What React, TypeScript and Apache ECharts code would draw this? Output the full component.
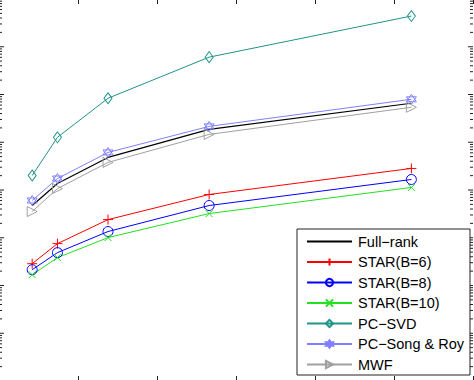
import React, { useEffect, useRef } from "react";
import * as echarts from "echarts";

// x positions (arbitrary units, axis labels are cropped out of the reference)
const xValues = [21, 37, 69, 133, 261];

// series values (log scale)
const fullRank = [0.473, 1.37, 4.81, 18.6, 65.5];
const star6 = [0.0286, 0.0753, 0.24, 0.805, 2.83];
const star8 = [0.0214, 0.0488, 0.135, 0.473, 1.66];
const star10 = [0.0168, 0.0383, 0.1007, 0.321, 1.13];
const pcSvd = [2.01, 12.7, 83.4, 606, 4396];
const pcSong = [0.602, 1.74, 6.12, 21.5, 79.4];
const mwf = [0.354, 1.07, 3.78, 14.6, 54.0];

const seriesNames = [
  "Full−rank",
  "STAR(B=6)",
  "STAR(B=8)",
  "STAR(B=10)",
  "PC−SVD",
  "PC−Song & Roy",
  "MWF",
];

// axis ranges / ticks
const xMin = 0;
const xMax = 300;
const xInterval = 50;
const yExpMin = -4;
const yExpMax = 4;
const minorMultipliers = [2, 3, 4, 5, 6, 7, 8, 9];

const yTicks: { v: number; major: boolean }[] = [];
for (let k = yExpMin; k <= yExpMax; k++) {
  yTicks.push({ v: Math.pow(10, k), major: true });
  if (k < yExpMax) {
    for (const m of minorMultipliers) yTicks.push({ v: m * Math.pow(10, k), major: false });
  }
}

const PLUS = "path://M5,0L5,10M0,5L10,5";
const CROSS = "path://M0,0L10,10M10,0L0,10";
const TRI_RIGHT = "path://M0,0L10,5L0,10Z";
const HEXAGRAM = "path://M5,0L9.33,7.5L0.67,7.5ZM5,10L0.67,2.5L9.33,2.5Z";

function pairs(ys: number[]) {
  return xValues.map((x, i) => [x, ys[i]]);
}

function lineSeries(
  name: string,
  ys: number[],
  color: string,
  symbol: string,
  symbolSize: number | number[],
  width = 1,
  hideMarker = false
) {
  return {
    name,
    type: "line",
    data: pairs(ys),
    color,
    symbol,
    symbolSize,
    showSymbol: !hideMarker,
    lineStyle: { color, width },
    itemStyle: {
      color: "rgba(255,255,255,0)",
      borderColor: hideMarker ? "rgba(255,255,255,0)" : color,
      borderWidth: hideMarker ? 0 : 1,
    },
    emphasis: { disabled: true },
    z: 3,
  };
}

export default function App() {
  const ref = useRef<HTMLDivElement>(null);

  useEffect(() => {
    if (!ref.current) return;
    const chart = echarts.init(ref.current, undefined, { renderer: "svg" });

    const axisLine = { show: true, lineStyle: { color: "#222", width: 1 } };
    const xAxisBase = {
      type: "value",
      min: xMin,
      max: xMax,
      interval: xInterval,
      axisLine,
      axisTick: { show: true, inside: true, length: 5, lineStyle: { color: "#222" } },
      axisLabel: { show: false },
      splitLine: { show: false },
    };
    const yAxisBase = {
      type: "log",
      logBase: 10,
      min: Math.pow(10, yExpMin),
      max: Math.pow(10, yExpMax),
      axisLine,
      axisTick: { show: false },
      axisLabel: { show: false },
      splitLine: { show: false },
    };

    const option: any = {
      animation: false,
      backgroundColor: "#ffffff",
      grid: { left: 0, right: 1, top: 0, bottom: 0, containLabel: false },
      xAxis: [
        { ...xAxisBase, position: "bottom" },
        { ...xAxisBase, position: "top" },
      ],
      yAxis: [
        { ...yAxisBase, position: "left" },
        { ...yAxisBase, position: "right" },
      ],
      legend: {
        orient: "vertical",
        left: 298,
        top: 230,
        height: 300,
        data: seriesNames,
        itemWidth: 45,
        itemHeight: 9,
        itemGap: 5.5,
        padding: [5, 6, 3, 9],
        backgroundColor: "#ffffff",
        borderColor: "#222",
        borderWidth: 1,
        borderRadius: 0,
        textStyle: {
          fontSize: 14.5,
          color: "#000",
          fontFamily: "'Liberation Sans', Arial, Helvetica, sans-serif",
          padding: [0, 0, 0, 1],
        },
        selectedMode: false,
        z: 10,
      },
      series: [
        {
          type: "custom",
          silent: true,
          clip: false,
          data: yTicks.map((t) => [xMin, t.v, t.major ? 1 : 0]),
          renderItem: (params: any, api: any) => {
            const cs = params.coordSys;
            const y = api.coord([xMin, api.value(1)])[1];
            const len = api.value(2) ? 5 : 3;
            const style = { stroke: "#222", lineWidth: 1 };
            return {
              type: "group",
              children: [
                { type: "line", shape: { x1: cs.x, y1: y, x2: cs.x + len, y2: y }, style },
                {
                  type: "line",
                  shape: { x1: cs.x + cs.width, y1: y, x2: cs.x + cs.width - len, y2: y },
                  style,
                },
              ],
            };
          },
          z: 1,
        },
        lineSeries(seriesNames[0], fullRank, "#000000", "circle", 1, 1.2, true),
        lineSeries(seriesNames[1], star6, "#ff0000", PLUS, 10),
        lineSeries(seriesNames[2], star8, "#0000ff", "circle", 10),
        lineSeries(seriesNames[3], star10, "#22e022", CROSS, 7),
        lineSeries(seriesNames[4], pcSvd, "#1f9488", "diamond", [8, 11]),
        lineSeries(seriesNames[5], pcSong, "#8080ff", HEXAGRAM, 10),
        lineSeries(seriesNames[6], mwf, "#a0a0a0", TRI_RIGHT, 10),
      ],
    };

    chart.setOption(option);
    return () => chart.dispose();
  }, []);

  return (
    <div
      ref={ref}
      style={{ position: "fixed", left: -1, top: -1, width: 475, height: 382 }}
    />
  );
}
